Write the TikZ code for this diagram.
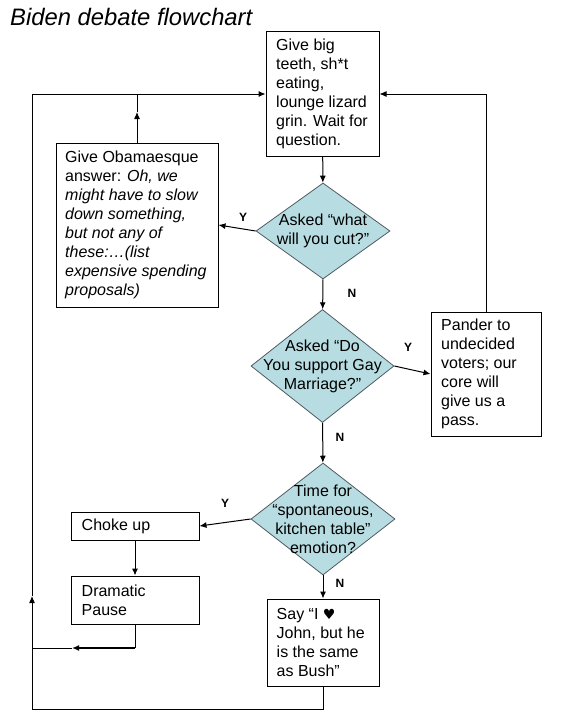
\documentclass[tikz,border=0pt]{standalone}
\usepackage{fontspec}
\setmainfont{Liberation Sans}
\newfontfamily\symfont{DejaVu Sans}
\usetikzlibrary{arrows.meta,shapes.geometric}
\definecolor{dfill}{HTML}{B7DDE2}
\definecolor{dline}{HTML}{505A60}
\begin{document}
\begin{tikzpicture}[x=1pt,y=-1pt,
  every node/.style={inner sep=0pt},
  txt/.style={font=\fontsize{16}{19}\selectfont},
  boxnode/.style={draw=black,line width=1pt,fill=white,rectangle},
  dnode/.style={draw=dline,line width=0.8pt,fill=dfill,diamond,inner sep=0pt},
  yn/.style={font=\fontsize{12}{14}\selectfont\bfseries},
  conn/.style={line width=1pt,draw=black},
  arr/.style={conn,-{Latex[length=7pt,width=6pt]}}]
\useasboundingbox (0,0) rectangle (565,717);
\fill[white] (0,0) rectangle (565,717);
% title
\node[anchor=base west,font=\fontsize{23.8}{28}\selectfont\itshape] (title) at (10,26) {Biden debate flowchart};
% boxes
\node[boxnode,minimum width=113pt,minimum height=124pt] (b1) at (322.5,94) {};
\node[txt,anchor=west,align=left] (b1t) at (276,94) {Give big\\teeth, sh*t\\eating,\\lounge lizard\\grin. Wait for\\question.};
\node[boxnode,minimum width=162pt,minimum height=164pt] (b2) at (137,225) {};
\node[txt,anchor=west,align=left] (b2t) at (65,225) {Give Obamaesque\\answer: \textit{Oh, we}\\\textit{might have to slow}\\\textit{down something,}\\\textit{but not any of}\\\textit{these:\dots(list}\\\textit{expensive spending}\\\textit{proposals)}};
\node[boxnode,minimum width=110pt,minimum height=124pt] (b3) at (486,374) {};
\node[txt,anchor=west,align=left] (b3t) at (441,374) {Pander to\\undecided\\voters; our\\core will\\give us a\\pass.};
\node[boxnode,minimum width=128pt,minimum height=28pt] (b4) at (135,526) {};
\node[txt,anchor=west,align=left] (b4t) at (81.5,526) {Choke up};
\node[boxnode,minimum width=128pt,minimum height=48pt] (b5) at (135,600) {};
\node[txt,anchor=west,align=left] (b5t) at (81.5,600) {Dramatic\\Pause};
\node[boxnode,minimum width=112pt,minimum height=87pt] (b6) at (323,642.5) {};
\node[txt,anchor=west,align=left] (b6t) at (276.5,642.5) {Say “I {\symfont\fontsize{14}{19}\selectfont ♥}\\John, but he\\is the same\\as Bush”};
% diamonds
\node[dnode,minimum width=134pt,minimum height=96pt] (d1) at (323,231) {};
\node[txt,align=center] (d1t) at (323,231) {Asked “what\\will you cut?”};
\node[dnode,minimum width=143pt,minimum height=113pt] (d2) at (322.5,366) {};
\node[txt,align=center] (d2t) at (322.5,366) {Asked “Do\\You support Gay\\Marriage?”};
\node[dnode,minimum width=144pt,minimum height=112pt] (d3) at (323,519) {};
\node[txt,align=center] (d3t) at (323,519) {Time for\\“spontaneous,\\kitchen table”\\emotion?};
% labels
\node[yn] (y1) at (243,217) {Y};
\node[yn] (n1) at (352,293) {N};
\node[yn] (y2) at (408,347) {Y};
\node[yn] (n2) at (340,437) {N};
\node[yn] (y3) at (225,503) {Y};
\node[yn] (n3) at (340,583) {N};
% coordinates
\coordinate (c2top) at (137,94);
\coordinate (c2mid) at (137,112);
\coordinate (c3top) at (486,94);
\coordinate (c5bot) at (135,648);
\coordinate (c5mid) at (72,648);
\coordinate (cL5) at (32,648);
\coordinate (c6bot) at (323,709);
\coordinate (cLbot) at (32,709);
\coordinate (cLmid) at (32,596);
\coordinate (cLtop) at (32,94);
% connectors
\draw[arr] (b1) -- (d1);
\draw[arr] (d1.west) -- (b2.east);
\draw[arr] (d1) -- (d2);
\draw[arr] (d2.east) -- (b3.west);
\draw[arr] (d2) -- (d3);
\draw[arr] (d3.west) -- (b4.east);
\draw[arr] (d3) -- (b6);
\draw[arr] (b4) -- (b5);
\draw[arr] (b2.north) -- (c2mid);
\draw[conn] (c2mid) -- (c2top);
\draw[conn] (b3.north) -- (c3top);
\draw[arr] (c3top) -- (b1.east);
\draw[conn] (b5.south) -- (c5bot);
\draw[arr,line width=1.5pt] (c5bot) -- (c5mid);
\draw[conn] (c5mid) -- (cL5);
\draw[conn] (b6.south) -- (c6bot) -- (cLbot);
\draw[arr] (cLbot) -- (cLmid);
\draw[conn] (cLmid) -- (cLtop);
\draw[arr] (cLtop) -- (b1.west);
\end{tikzpicture}
\end{document}
